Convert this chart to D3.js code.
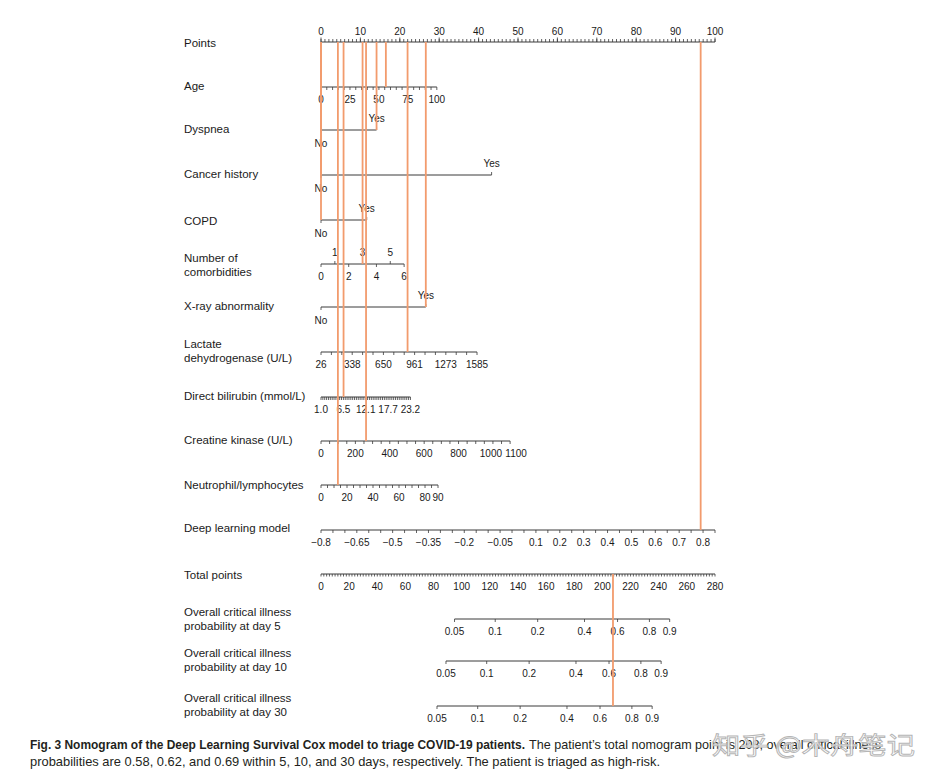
<!DOCTYPE html>
<html>
<head>
<meta charset="utf-8">
<script src="https://cdn.jsdelivr.net/npm/d3@7"></script>
<style>
  body { margin: 0; background: #fff; }
  text { font-family: "Liberation Sans", Arial, Helvetica, sans-serif; fill: #1a1a1a; }
</style>
</head>
<body>
<svg id="chart" width="937" height="783"></svg>
<script>
// ---- data ----
// points axis
const pointTicks = d3.range(0, 101, 1);
const pointLabels = d3.range(0, 101, 10);

// continuous predictors: value range and points at the top of the range
const ageRange = [0, 100];
const agePoints = 29.4;
const ageTicks = d3.range(0, 101, 5);
const ageLabels = [0, 25, 50, 75, 100];

const comorbRange = [0, 6];
const comorbPoints = 21.1;
const comorbTicks = [0, 1, 2, 3, 4, 5, 6];

const ldhRange = [26, 1585];
const ldhPoints = 39.6;
const ldhTicks = d3.range(0, 16).map(k => 26 + k * (1559 / 15));
const ldhLabels = [26, 338, 650, 961, 1273, 1585];

const biliRange = [1.0, 23.2];
const biliPoints = 22.7;
const biliTicks = d3.range(0, 49).map(k => 1.0 + k * (22.2 / 48));
const biliLabels = [1.0, 6.55, 12.1, 17.65, 23.2];
const biliLabelText = ["1.0", "6.5", "12.1", "17.7", "23.2"];

const ckRange = [0, 1100];
const ckPoints = 48.0;
const ckTicks = d3.range(0, 1101, 50);
const ckLabels = [0, 200, 400, 600, 800, 1000, 1100];

const nlrRange = [0, 90];
const nlrPoints = 29.7;
const nlrTicks = d3.range(0, 91, 5);
const nlrLabels = [0, 20, 40, 60, 80, 90];

const dlRange = [-0.8, 0.85];
const dlPoints = 100;
const dlTicks = d3.range(0, 34).map(k => -0.8 + k * 0.05);
const dlLabels = [-0.8, -0.65, -0.5, -0.35, -0.2, -0.05, 0.1, 0.2, 0.3, 0.4, 0.5, 0.6, 0.7, 0.8];

// binary predictors: points for "Yes"
const binaryNames = ["Dyspnea", "Cancer history", "COPD", "X-ray abnormality"];
const binaryYesPoints = [14.1, 43.3, 11.6, 26.6];

// total points axis
const totalTicks = d3.range(0, 281, 2);
const totalLabels = d3.range(0, 281, 20);

// survival model: cloglog(p) = intercept + slope * totalPoints
const probTicks = [0.05, 0.1, 0.2, 0.4, 0.6, 0.8, 0.9];
const probDays = [5, 10, 30];
const probIntercepts = [-5.331, -5.180, -5.021];
const probSlope = 0.02488;

// the patient drawn in orange
const patientAge = 56;
const patientBinary = [1, 0, 0, 1]; // dyspnea, cancer, COPD, X-ray
const patientComorb = 3;
const patientLdh = 891;
const patientBili = 6.6;
const patientCk = 262;
const patientNlr = 13;
const patientDl = 0.79;

// ---- layout ----
const svg = d3.select("#chart");
const labelX = 184;
const axisColor = "#3a3a3a";
const hiColor = "#f29b6d";

const ptsScale = d3.scaleLinear().domain([0, 100]).range([321, 715]);
const totalScale = d3.scaleLinear().domain([0, 280]).range([321, 715]);
const varScale = (range, maxPts) =>
  d3.scaleLinear().domain(range).range([ptsScale(0), ptsScale(maxPts)]);

const axisG = svg.append("g");
const hiG = svg.append("g");

function rowLabel(lines, yCenter) {
  const t = axisG.append("text")
    .attr("x", labelX)
    .style("font-size", "11.5px");
  lines.forEach((s, i) => {
    t.append("tspan")
      .attr("x", labelX)
      .attr("y", yCenter + 4 + i * 14 - (lines.length - 1) * 7)
      .text(s);
  });
}

// generic axis: line, ticks (dir -1 up, +1 down), labels
function drawAxis(scale, y, ticks, labels, opts = {}) {
  const dir = opts.dir || 1;
  const tickLen = opts.tickLen || 3;
  const shift = opts.labelShift || labels.map(() => 0);
  const ext = scale.range();
  axisG.append("line")
    .attr("x1", ext[0]).attr("x2", ext[1])
    .attr("y1", y).attr("y2", y)
    .attr("stroke", axisColor).attr("stroke-width", 1);
  axisG.selectAll(null)
    .data(ticks)
    .join("line")
    .attr("x1", d => scale(d)).attr("x2", d => scale(d))
    .attr("y1", y).attr("y2", y + dir * tickLen)
    .attr("stroke", axisColor).attr("stroke-width", 0.8);
  const lab = opts.labelText || labels.map(d => (d < 0 ? "\u2212" + Math.abs(d) : String(d)));
  axisG.selectAll(null)
    .data(labels)
    .join("text")
    .attr("x", (d, i) => scale(d) + shift[i])
    .attr("y", y + (dir > 0 ? 16 : -7))
    .attr("text-anchor", "middle")
    .style("font-size", "10px")
    .text((d, i) => lab[i]);
}

// Points
rowLabel(["Points"], 43);
drawAxis(ptsScale, 42, pointTicks, pointLabels, { dir: -1, tickLen: 3 });
axisG.selectAll(null).data(pointLabels).join("line")
  .attr("x1", d => ptsScale(d)).attr("x2", d => ptsScale(d))
  .attr("y1", 42).attr("y2", 37.5)
  .attr("stroke", axisColor).attr("stroke-width", 0.8);

// Age
const ageScale = varScale(ageRange, agePoints);
rowLabel(["Age"], 86);
drawAxis(ageScale, 87, ageTicks, ageLabels);

// binary rows
const binaryY = [130, 175, 220, 307];
const binaryLabelY = [129, 174, 221, 306];
binaryNames.forEach((name, i) => {
  const y = binaryY[i];
  const x0 = ptsScale(0), x1 = ptsScale(binaryYesPoints[i]);
  rowLabel([name], binaryLabelY[i]);
  axisG.append("line").attr("x1", x0).attr("x2", x1).attr("y1", y).attr("y2", y)
    .attr("stroke", axisColor).attr("stroke-width", 1);
  axisG.append("line").attr("x1", x0).attr("x2", x0).attr("y1", y).attr("y2", y + 3)
    .attr("stroke", axisColor).attr("stroke-width", 0.8);
  axisG.append("line").attr("x1", x1).attr("x2", x1).attr("y1", y).attr("y2", y - 3)
    .attr("stroke", axisColor).attr("stroke-width", 0.8);
  axisG.append("text").attr("x", x0).attr("y", y + 17).attr("text-anchor", "middle")
    .style("font-size", "10px").text("No");
  axisG.append("text").attr("x", x1).attr("y", y - 8).attr("text-anchor", "middle")
    .style("font-size", "10px").text("Yes");
});

// Number of comorbidities (alternating ticks)
const comorbScale = varScale(comorbRange, comorbPoints);
rowLabel(["Number of", "comorbidities"], 265);
const comorbY = 264;
axisG.append("line").attr("x1", comorbScale(0)).attr("x2", comorbScale(6))
  .attr("y1", comorbY).attr("y2", comorbY).attr("stroke", axisColor);
axisG.selectAll(null).data(comorbTicks).join("line")
  .attr("x1", d => comorbScale(d)).attr("x2", d => comorbScale(d))
  .attr("y1", comorbY).attr("y2", d => comorbY + (d % 2 ? -3 : 3))
  .attr("stroke", axisColor).attr("stroke-width", 0.8);
axisG.selectAll(null).data(comorbTicks).join("text")
  .attr("x", d => comorbScale(d))
  .attr("y", d => comorbY + (d % 2 ? -8 : 16))
  .attr("text-anchor", "middle").style("font-size", "10px")
  .text(d => d);

// LDH
const ldhScale = varScale(ldhRange, ldhPoints);
rowLabel(["Lactate", "dehydrogenase (U/L)"], 351);
drawAxis(ldhScale, 352, ldhTicks, ldhLabels);

// Direct bilirubin
const biliScale = varScale(biliRange, biliPoints);
rowLabel(["Direct bilirubin (mmol/L)"], 396);
drawAxis(biliScale, 397, biliTicks, biliLabels, { labelText: biliLabelText });

// Creatine kinase (last two labels pushed apart as in the original)
const ckScale = varScale(ckRange, ckPoints);
rowLabel(["Creatine kinase (U/L)"], 440);
drawAxis(ckScale, 441, ckTicks, ckLabels, { labelShift: [0, 0, 0, 0, 0, -2, 6] });

// NLR
const nlrScale = varScale(nlrRange, nlrPoints);
rowLabel(["Neutrophil/lymphocytes"], 485);
drawAxis(nlrScale, 485, nlrTicks, nlrLabels);

// Deep learning model
const dlScale = varScale(dlRange, dlPoints);
rowLabel(["Deep learning model"], 528);
drawAxis(dlScale, 530, dlTicks, dlLabels);

// Total points
rowLabel(["Total points"], 575);
drawAxis(totalScale, 574, totalTicks, totalLabels, { tickLen: 2.5 });

// probability axes
const cll = p => Math.log(-Math.log(1 - p));
const probY = [619, 661, 706];
const probLabelY = [619, 660, 705];
probDays.forEach((day, i) => {
  const tp = p => (cll(p) - probIntercepts[i]) / probSlope;
  const pScale = p => totalScale(tp(p));
  pScale.range = () => [pScale(probTicks[0]), pScale(probTicks[probTicks.length - 1])];
  rowLabel(["Overall critical illness", "probability at day " + day], probLabelY[i]);
  drawAxis(pScale, probY[i], probTicks, probTicks);
});

// ---- patient lines ----
const contRows = [
  [ageScale, patientAge, 87],
  [comorbScale, patientComorb, comorbY],
  [ldhScale, patientLdh, 352],
  [biliScale, patientBili, 397],
  [ckScale, patientCk, 441],
  [nlrScale, patientNlr, 485],
  [dlScale, patientDl, 530]
];
let totalPts = 0;
contRows.forEach(([sc, v, y]) => {
  const x = sc(v);
  totalPts += ptsScale.invert(x);
  hiG.append("line").attr("x1", x).attr("x2", x).attr("y1", 42).attr("y2", y)
    .attr("stroke", hiColor).attr("stroke-width", 1.8);
});
patientBinary.forEach((v, i) => {
  const pts = v ? binaryYesPoints[i] : 0;
  totalPts += pts;
  const x = ptsScale(pts);
  hiG.append("line").attr("x1", x).attr("x2", x).attr("y1", 42).attr("y2", binaryY[i])
    .attr("stroke", hiColor).attr("stroke-width", 1.8);
});
hiG.append("line")
  .attr("x1", totalScale(totalPts)).attr("x2", totalScale(totalPts))
  .attr("y1", 574).attr("y2", 706)
  .attr("stroke", hiColor).attr("stroke-width", 1.8);

// ---- caption ----
const capFont = '"Liberation Sans Narrow", "Liberation Sans", Arial, sans-serif';
svg.append("text").attr("x", 30).attr("y", 749)
  .attr("textLength", 495).attr("lengthAdjust", "spacingAndGlyphs")
  .style("font-family", capFont).style("font-size", "13px").style("font-weight", "bold")
  .style("fill", "#231f20")
  .text("Fig. 3 Nomogram of the Deep Learning Survival Cox model to triage COVID-19 patients.");
svg.append("text").attr("x", 529).attr("y", 749)
  .attr("textLength", 352).attr("lengthAdjust", "spacingAndGlyphs")
  .style("font-family", capFont).style("font-size", "13px")
  .style("fill", "#231f20")
  .text("The patient\u2019s total nomogram point is 208, overall critical illness");
svg.append("text").attr("x", 30).attr("y", 766)
  .attr("textLength", 630).attr("lengthAdjust", "spacingAndGlyphs")
  .style("font-family", capFont).style("font-size", "13px")
  .style("fill", "#231f20")
  .text("probabilities are 0.58, 0.62, and 0.69 within 5, 10, and 30 days, respectively. The patient is triaged as high-risk.");

// watermark
svg.append("text").attr("x", 712).attr("y", 754)
  .attr("textLength", 203).attr("lengthAdjust", "spacingAndGlyphs")
  .style("font-family", '"Noto Sans CJK SC", sans-serif').style("font-size", "24px")
  .style("fill", "rgba(255,255,255,0.75)").style("stroke", "#b5b5b5").style("stroke-width", 0.9)
  .text("知乎 @木舟笔记");
</script>
</body>
</html>
